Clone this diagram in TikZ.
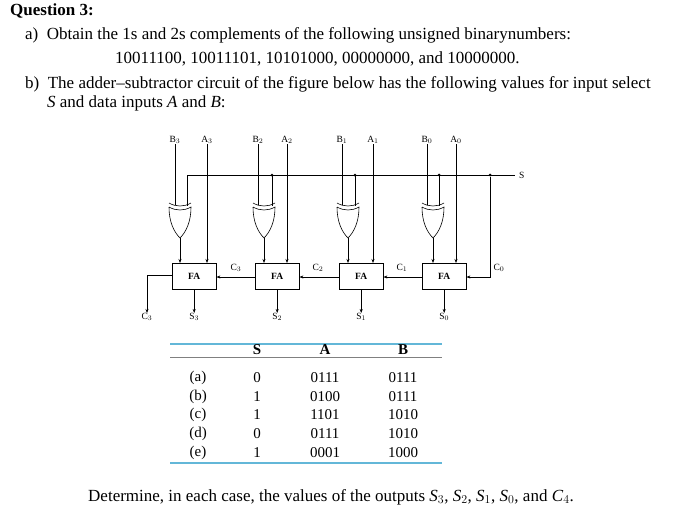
\documentclass[tikz,border=0pt]{standalone}
\usepackage{fontspec}
\setmainfont{Liberation Serif}
\usetikzlibrary{arrows.meta}
\begin{document}
\begin{tikzpicture}[x=1pt,y=-1pt,
  txt/.style={anchor=west,inner sep=0,font=\fontsize{17}{19}\selectfont},
  lab/.style={inner sep=0,font=\fontsize{9.5}{11}\selectfont},
  tab/.style={inner sep=0,font=\fontsize{15}{17}\selectfont},
  fabox/.style={draw,minimum width=44pt,minimum height=26pt,inner sep=0,font=\fontsize{9.5}{11}\selectfont\bfseries},
  wire/.style={line width=0.6pt},
  arr/.style={wire,-{Stealth[length=4pt,width=3pt]}},
  dot/.style={circle,fill,inner sep=0,minimum size=3pt}]
\useasboundingbox (0,0) rectangle (700,531);
\node[txt,font=\fontsize{17}{19}\selectfont\bfseries] (q) at (10,11) {Question 3:};
\node[txt] (ta) at (25,35) {a)\ \ Obtain the 1s and 2s complements of the following unsigned binarynumbers:};
\node[txt] (tb) at (115,59) {10011100, 10011101, 10101000, 00000000, and 10000000.};
\node[txt] (tc) at (25,84) {b)\ \ The adder–subtractor circuit of the figure below has the following values for input select};
\node[txt] (td) at (47,103) {\textit{S} and data inputs \textit{A} and \textit{B}:};
\node[txt] (te) at (88,497) {Determine, in each case, the values of the outputs \textit{S}$_3$, \textit{S}$_2$, \textit{S}$_1$, \textit{S}$_0$, and \textit{C}$_4$.};

% S line
\coordinate (sl) at (187,175);
\coordinate (sr) at (515,175);
\node[lab,anchor=west] (S) at (519,175) {S};
\draw[wire] (sl) -- (sr);
\node[dot] (d0) at (490,175) {};
\foreach \cx/\bx/\tx/\ax/\fl/\i in {180/175/187/207/172/3, 264/258/272/287/255/2, 348/342/355/373/339/1, 433/427/439/456/422/0}{
  \node[lab] (B\i) at (\bx,140) {B$_{\i}$};
  \node[lab] (A\i) at (\ax,140) {A$_{\i}$};
  \node[fabox,anchor=north west] (FA\i) at (\fl,263) {FA};
  \draw[wire] (\cx-11,207) .. controls (\cx-4,211) and (\cx+4,211) .. (\cx+11,207)
     .. controls (\cx+11,222) and (\cx+6,232) .. (\cx,238)
     .. controls (\cx-6,232) and (\cx-11,222) .. (\cx-11,207);
  \draw[wire] (\cx-11,203) .. controls (\cx-4,207) and (\cx+4,207) .. (\cx+11,203);
  \draw[wire] (B\i.south) -- (\bx,205);
  \draw[wire] (\tx,175) -- (\tx,205.5);
  \draw[arr] (\cx,238) -- (\cx,263);
  \draw[arr] (A\i.south) -- (\ax,263);
  \coordinate (so\i) at (FA\i.south |- 0,313);
  \draw[arr] (FA\i.south) -- (so\i);
  \node[lab,anchor=north] (SO\i) at (so\i) {S$_{\i}$};
}
\node[dot] at (272,175) {};
\node[dot] at (355,175) {};
\node[dot] at (439,175) {};
\draw[arr] (d0) |- (FA0.east |- 0,277) ;
\node[lab] (c0l) at (499,268) {C$_0$};
\draw[arr] (FA0.west |- 0,277) -- (FA1.east |- 0,277);
\node[lab] (c1l) at (402,268) {C$_1$};
\draw[arr] (FA1.west |- 0,277) -- (FA2.east |- 0,277);
\node[lab] (c2l) at (318,268) {C$_2$};
\draw[arr] (FA2.west |- 0,277) -- (FA3.east |- 0,277);
\node[lab] (c3l) at (236,268) {C$_3$};
\coordinate (c3o) at (147,313);
\draw[arr] (FA3.west |- 0,275) -| (c3o);
\node[lab,anchor=north] (C3) at (c3o) {C$_3$};

% table
\draw[cyan!60!teal!70,line width=1.2pt] (170,344) -- (442,344);
\draw[gray,line width=0.5pt] (170,357) -- (442,357);
\draw[cyan!60!teal!70,line width=1.2pt] (170,463) -- (442,463);
\node[tab,font=\fontsize{15}{17}\selectfont\bfseries] (hS) at (257,350) {S};
\node[tab,font=\fontsize{15}{17}\selectfont\bfseries] (hA) at (325,350) {A};
\node[tab,font=\fontsize{15}{17}\selectfont\bfseries] (hB) at (403,350) {B};
\foreach \y/\l/\s/\a/\b in {378/a/0/0111/0111, 397/b/1/0100/0111, 415/c/1/1101/1010, 434/d/0/0111/1010, 453/e/1/0001/1000}{
  \node[tab] at (198,\y) {(\l)};
  \node[tab] at (257,\y) {\s};
  \node[tab] at (325,\y) {\a};
  \node[tab] at (403,\y) {\b};
}
\end{tikzpicture}
\end{document}
